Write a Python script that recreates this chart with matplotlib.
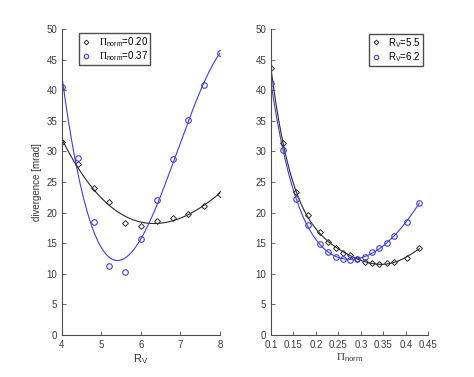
"""
divergence vs R_V and Pi_norm, two panels
"""

import matplotlib
matplotlib.use("Agg")
import matplotlib.pyplot as plt
import numpy as np

plt.rcParams["font.family"] = ["Liberation Sans", "DejaVu Sans"]
# mathtext: 下标用无衬线, Π 用衬线体 (借用 bf 槽位)
plt.rcParams["mathtext.fontset"] = "custom"
plt.rcParams["mathtext.rm"] = "Liberation Sans"
plt.rcParams["mathtext.it"] = "Liberation Sans:italic"
plt.rcParams["mathtext.bf"] = "Liberation Serif"

# left panel: divergence vs R_V
rv = [4.0, 4.4, 4.8, 5.2, 5.6, 6.0, 6.4, 6.8, 7.2, 7.6, 8.0]
div_pi020 = [31.5, 27.9, 24.1, 21.7, 18.35, 17.75, 18.7, 19.1, 19.8, 21.1, 23.1]
div_pi037 = [40.5, 28.9, 18.5, 11.3, 10.35, 15.7, 22.1, 28.7, 35.1, 40.9, 46.0]

# right panel: divergence vs Pi_norm
pi_norm = [0.100, 0.127, 0.155, 0.182, 0.209, 0.227, 0.244, 0.260, 0.276,
           0.292, 0.309, 0.325, 0.341, 0.357, 0.374, 0.402, 0.430]
div_rv55 = [43.6, 31.3, 23.3, 19.6, 16.9, 15.2, 14.2, 13.4, 13.0,
            12.4, 12.0, 11.75, 11.6, 11.75, 11.9, 12.5, 14.2]
div_rv62 = [41.2, 30.2, 22.2, 18.0, 14.9, 13.5, 12.8, 12.4, 12.3,
            12.4, 12.8, 13.5, 14.2, 15.0, 16.2, 18.5, 21.6]

BLUE = "#3f3fe0"
BLACK = "#2a2a2a"
GRAY = "#4d4d4d"
PI = r"$\mathbf{\Pi}_{\mathrm{norm}}$"
RV = r"R$_{\mathrm{V}}$"


def fit_curve(x, y, deg):
    # 多项式拟合曲线
    coef = np.polyfit(x, y, deg)
    xs = np.linspace(min(x), max(x), 300)
    return xs, np.polyval(coef, xs)


def style_axes(ax):
    ax.spines["top"].set_visible(False)
    ax.spines["right"].set_visible(False)
    for s in ("left", "bottom"):
        ax.spines[s].set_color(GRAY)
        ax.spines[s].set_linewidth(0.8)
    ax.tick_params(direction="in", length=3, width=0.6, colors=GRAY,
                   labelsize=7, labelcolor="#3a3a3a")
    ax.set_ylim(0, 50)
    ax.set_yticks(range(0, 51, 5))


legend_kw = dict(fontsize=7, frameon=True, fancybox=False, edgecolor=GRAY,
                 framealpha=1, handlelength=1.0, handletextpad=0.8,
                 borderpad=0.2, labelspacing=0.1, markerscale=0.8,
                 borderaxespad=0)

fig = plt.figure(figsize=(4.74, 3.77), dpi=100)
ax1 = fig.add_axes([0.1308, 0.1114, 0.3333, 0.8117])
ax2 = fig.add_axes([0.5717, 0.1114, 0.3319, 0.8117])

# === 左图 ===
xs, ys = fit_curve(rv, div_pi020, 3)
ax1.plot(xs, ys, color=BLACK, lw=0.8)
xs, ys = fit_curve(rv, div_pi037, 3)
ax1.plot(xs, ys, color=BLUE, lw=0.8)
ax1.plot(rv, div_pi020, "D", ms=3, mfc="none", mec=BLACK, mew=0.7,
         label=PI + "=0.20")
ax1.plot(rv, div_pi037, "o", ms=4, mfc="none", mec=BLUE, mew=0.8,
         label=PI + "=0.37")
ax1.set_xlim(4, 8)
ax1.set_xticks([4, 5, 6, 7, 8])
style_axes(ax1)
ax1.set_xlabel(RV, fontsize=8, color="#333333", labelpad=2)
ax1.set_ylabel("divergence [mrad]", fontsize=7, color="#333333", labelpad=3)
ax1.legend(loc="upper left", bbox_to_anchor=(0.108, 0.987), **legend_kw)

# === 右图 ===
xs, ys = fit_curve(pi_norm, div_rv55, 5)
ax2.plot(xs, ys, color=BLACK, lw=0.8)
xs, ys = fit_curve(pi_norm, div_rv62, 5)
ax2.plot(xs, ys, color=BLUE, lw=0.8)
ax2.plot(pi_norm, div_rv55, "D", ms=3, mfc="none", mec=BLACK, mew=0.7,
         label=RV + "=5.5")
ax2.plot(pi_norm, div_rv62, "o", ms=4, mfc="none", mec=BLUE, mew=0.8,
         label=RV + "=6.2")
ax2.set_xlim(0.1, 0.45)
ax2.set_xticks(np.arange(0.1, 0.451, 0.05))
ax2.set_xticklabels(["0.1", "0.15", "0.2", "0.25", "0.3", "0.35", "0.4", "0.45"])
style_axes(ax2)
ax2.set_xlabel(PI, fontsize=8, color="#333333", labelpad=1)
ax2.legend(loc="upper right", bbox_to_anchor=(0.966, 0.984), **legend_kw)

plt.savefig("out.png", dpi=100)
